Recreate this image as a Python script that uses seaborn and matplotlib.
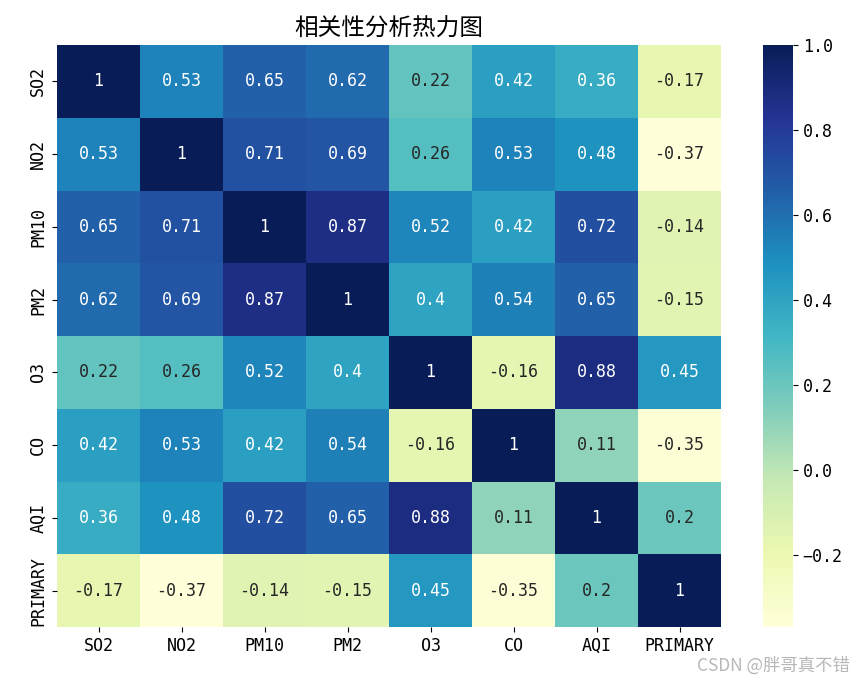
import numpy as np
import pandas as pd
import matplotlib
matplotlib.use("Agg")
import matplotlib.pyplot as plt
import seaborn as sns

labels = ["SO2", "NO2", "PM10", "PM2", "O3", "CO", "AQI", "PRIMARY"]
row_so2 = [1, 0.53, 0.65, 0.62, 0.22, 0.42, 0.36, -0.17]
row_no2 = [0.53, 1, 0.71, 0.69, 0.26, 0.53, 0.48, -0.37]
row_pm10 = [0.65, 0.71, 1, 0.87, 0.52, 0.42, 0.72, -0.14]
row_pm2 = [0.62, 0.69, 0.87, 1, 0.4, 0.54, 0.65, -0.15]
row_o3 = [0.22, 0.26, 0.52, 0.4, 1, -0.16, 0.88, 0.45]
row_co = [0.42, 0.53, 0.42, 0.54, -0.16, 1, 0.11, -0.35]
row_aqi = [0.36, 0.48, 0.72, 0.65, 0.88, 0.11, 1, 0.2]
row_primary = [-0.17, -0.37, -0.14, -0.15, 0.45, -0.35, 0.2, 1]
title = "相关性分析热力图"
watermark = "CSDN @胖哥真不错"

corr = pd.DataFrame([row_so2, row_no2, row_pm10, row_pm2, row_o3, row_co, row_aqi, row_primary],
                    index=labels, columns=labels)

plt.rcParams['font.family'] = ['DejaVu Sans Mono', 'Noto Sans CJK SC']
plt.rcParams['axes.unicode_minus'] = True

fig = plt.figure(figsize=(8.65, 6.76), dpi=100)
ax = fig.add_axes([57/865, 1 - 627/676, (721-57)/865, (627-45)/676])
cax = fig.add_axes([763/865, 1 - 627/676, (793-763)/865, (627-45)/676])

sns.heatmap(corr, annot=True, cmap="YlGnBu", ax=ax, cbar_ax=cax,
            annot_kws={"fontsize": 12})
ax.set_title(title, fontsize=17, family=['Noto Sans CJK SC'], pad=7)
ax.tick_params(axis='both', labelsize=12)
ax.set_yticklabels(labels, rotation=90, va='center')
ax.set_xticklabels(labels, rotation=0)
cax.tick_params(labelsize=12)
fig.text(850/865, 1 - 666/676, watermark, ha='right', va='center', fontsize=12.5,
         color='#b0b0b0', family=['Noto Sans CJK SC'], alpha=0.9)

fig.savefig("out.png", dpi=100)
